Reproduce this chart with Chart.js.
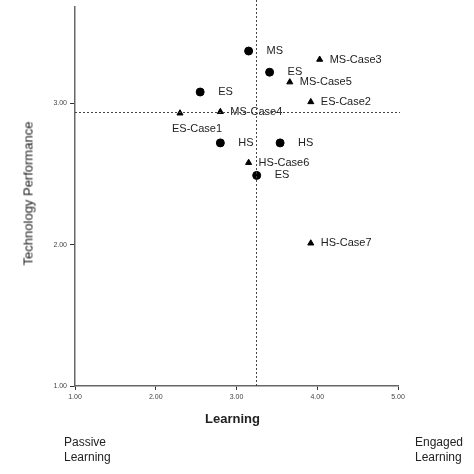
<!DOCTYPE html>
<html><head><script src="https://cdn.jsdelivr.net/npm/chart.js@4"></script>
<style>body{margin:0;background:#fff;font-family:Arial,"Liberation Sans",sans-serif}#w{position:relative;width:474px;height:474px}
.t{position:absolute;color:#222;font-size:12px;line-height:15px;font-weight:normal}</style></head><body>
<div id="w"><canvas id="c" width="474" height="474"></canvas>
<div class="t" style="left:-52px;top:186px;width:160px;text-align:center;transform:rotate(-90deg);font-size:13px">Technology Performance</div>
<div class="t" style="left:205px;top:411px;font-weight:bold;font-size:13px">Learning</div>
<div class="t" style="left:64px;top:435px">Passive<br>Learning</div>
<div class="t" style="left:415px;top:435px">Engaged<br>Learning</div>
</div>
<script>
const circleLabels=["MS","ES","ES","HS","HS","ES"];
const circleX=[3.15,3.41,2.55,2.80,3.54,3.25];
const circleY=[3.37,3.22,3.08,2.72,2.72,2.49];
const triLabels=["MS-Case3","MS-Case5","ES-Case2","ES-Case1","MS-Case4","HS-Case6","HS-Case7"];
const triX=[4.03,3.66,3.92,2.30,2.80,3.15,3.92];
const triY=[3.31,3.15,3.01,2.93,2.94,2.58,2.01];
const refX=3.24, refY=2.94;
const xTicks=[1,2,3,4,5], yTicks=[1,2,3];
const yTickText={1:"1.00",2:"2.00",3:"3.00"};
const labelOff={ "ES-Case1":[-8,16] };
const pts=(xs,ys)=>xs.map((x,i)=>({x,y:ys[i]}));
const labelPlugin={id:'lbl',afterDatasetsDraw(ch){const c=ch.ctx;c.save();c.font='11px Arial, "Liberation Sans"';c.fillStyle='#222';c.textBaseline='middle';
 ch.data.datasets.forEach((ds,di)=>{if(!ds.labels)return;ch.getDatasetMeta(di).data.forEach((el,i)=>{const l=ds.labels[i];const o=labelOff[l]||[ds.dx,0];c.fillText(l,el.x+o[0],el.y+o[1]);});});
 const xs=ch.scales.x,ys=ch.scales.y;c.strokeStyle='#444';c.lineWidth=1;c.setLineDash([2,2]);c.beginPath();
 const px=Math.round(xs.getPixelForValue(refX))+0.5,py=Math.round(ys.getPixelForValue(refY))+0.5;
 c.moveTo(px,0);c.lineTo(px,ch.chartArea.bottom);c.moveTo(ch.chartArea.left,py);c.lineTo(ch.chartArea.right+2,py);c.stroke();c.restore();}};
new Chart(document.getElementById('c'),{type:'scatter',
data:{datasets:[
{data:pts(circleX,circleY),labels:circleLabels,dx:18,pointStyle:'circle',pointRadius:4,backgroundColor:'#000',borderColor:'#000'},
{data:pts(triX,triY),labels:triLabels,dx:10,pointStyle:'triangle',pointRadius:3.5,backgroundColor:'#000',borderColor:'#000'}]},
options:{responsive:false,animation:false,events:[],layout:{padding:{top:-7,right:76,left:0,bottom:0}},
plugins:{legend:{display:false},tooltip:{enabled:false}},
scales:{
x:{min:1,max:5,afterBuildTicks:s=>{s.ticks=xTicks.map(v=>({value:v}))},afterFit:s=>{s.height=88},
 border:{color:'#666',width:1.5},grid:{drawOnChartArea:false,tickLength:4,color:'#333'},
 ticks:{font:{size:7},color:'#444',callback:v=>v.toFixed(2),maxRotation:0}},
y:{min:1,max:3.68,afterBuildTicks:s=>{s.ticks=yTicks.map(v=>({value:v}))},afterFit:s=>{s.width=75},
 border:{color:'#666',width:1.5},grid:{drawOnChartArea:false,tickLength:5,color:'#333'},
 ticks:{font:{size:7},color:'#444',callback:v=>yTickText[v]}}}},
plugins:[labelPlugin]});
</script></body></html>
